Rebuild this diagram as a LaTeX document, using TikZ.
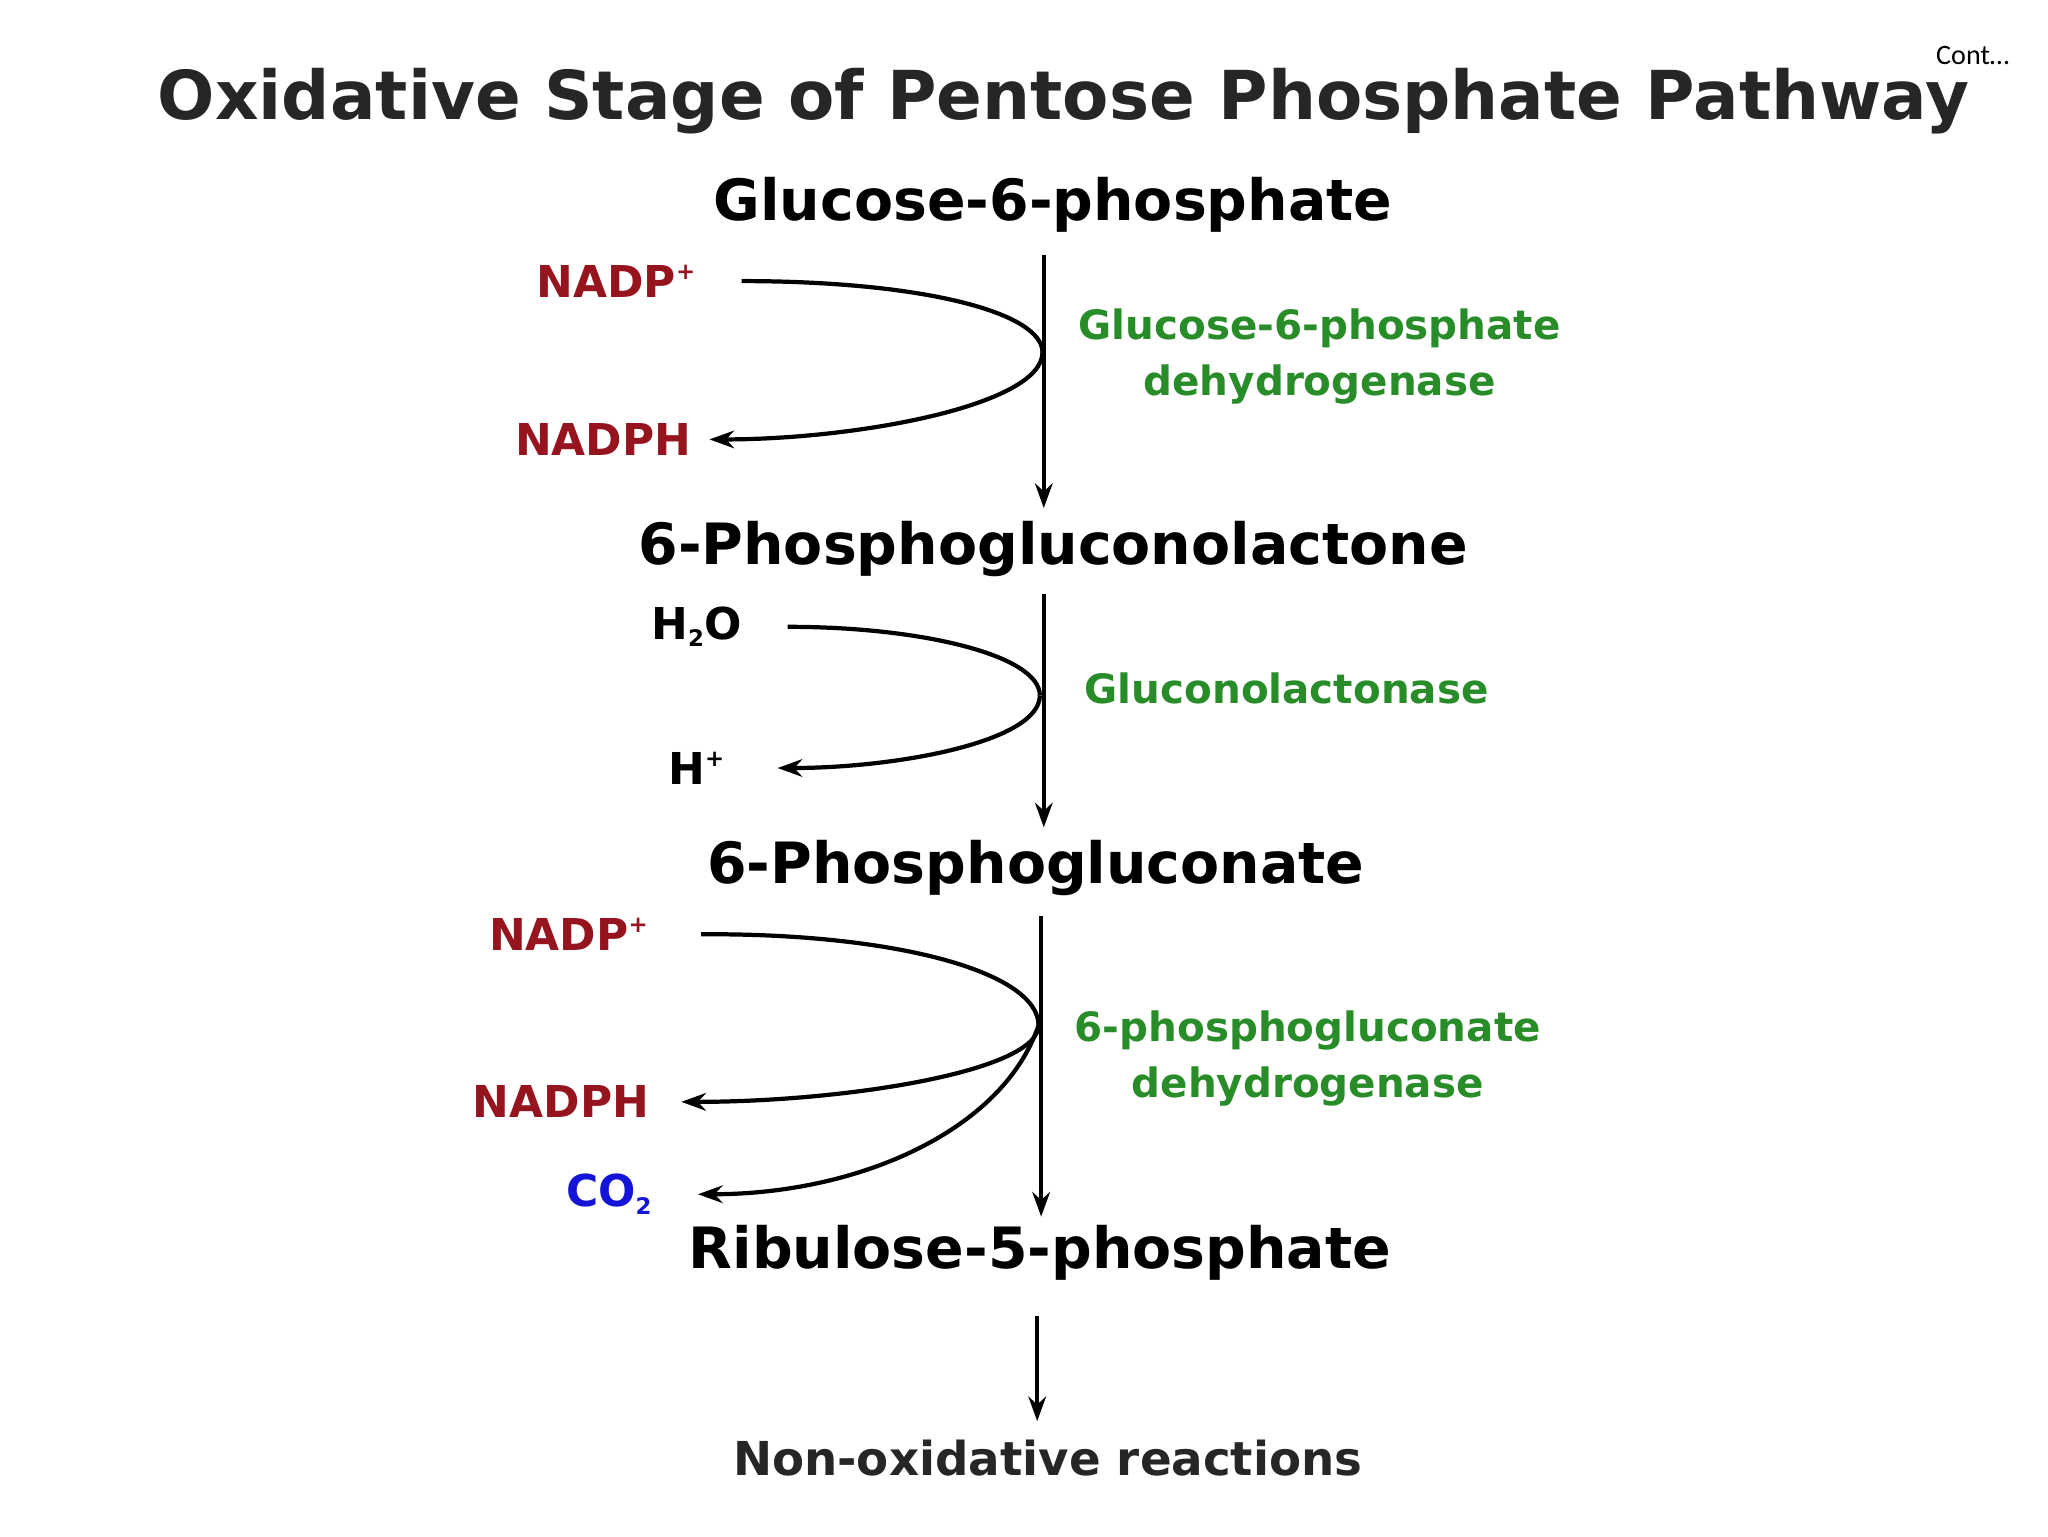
\documentclass[tikz,border=0pt]{standalone}
\usepackage{fontspec}
\setmainfont{DejaVu Sans}
\newfontfamily\contfont{Carlito}
\usetikzlibrary{arrows.meta}
\definecolor{dred}{RGB}{150,20,30}
\definecolor{egreen}{RGB}{40,140,40}
\definecolor{cblue}{RGB}{20,20,215}
\newcommand{\supp}[1]{\raisebox{0.75ex}{\fontsize{6.5}{7}\selectfont #1}}
\newcommand{\subb}[1]{\raisebox{-0.3ex}{\fontsize{6.5}{7}\selectfont #1}}
\tikzset{
 cmp/.style={font=\fontsize{16.2}{18}\selectfont\bfseries, inner sep=0pt},
 cof/.style={font=\fontsize{12.5}{15}\selectfont\bfseries, inner sep=1pt},
 enz/.style={font=\fontsize{11.5}{16}\selectfont\bfseries, text=egreen, align=center, inner sep=0pt},
 main/.style={line width=1.2pt, -{Stealth[length=7pt,width=5pt]}},
 side/.style={line width=1.2pt},
 sidea/.style={line width=1.2pt, -{Stealth[length=7pt,width=5pt]}}
}
\begin{document}
\begin{tikzpicture}[x=0.0132cm,y=-0.0132cm]
\useasboundingbox[fill=white] (0,0) rectangle (1552,1164);
\node[font=\fontsize{19.2}{22}\selectfont\bfseries, text=black!85, inner sep=0pt] (title) at (806,77) {Oxidative Stage of Pentose Phosphate Pathway};
\node[font=\contfont\fontsize{8}{9}\selectfont] (cont) at (1495,42) {Cont…};

\node[cmp] (g6p) at (798,155) {Glucose-6-phosphate};
\node[cmp] (pgl) at (798,416) {6-Phosphogluconolactone};
\node[cmp] (pg) at (785,658) {6-Phosphogluconate};
\node[cmp] (r5p) at (788,949) {Ribulose-5-phosphate};
\node[font=\fontsize{13.3}{16}\selectfont\bfseries, text=black!85, inner sep=0pt] (non) at (794,1105) {Non-oxidative reactions};

\coordinate (a1s) at (791,193); \coordinate (a1e) at (791,385);
\coordinate (a2s) at (791,450); \coordinate (a2e) at (791,627);
\coordinate (a3s) at (789,694); \coordinate (a3e) at (789,922);
\coordinate (a4s) at (786,997); \coordinate (a4e) at (786,1077);
\draw[main] (a1s) -- (a1e);
\draw[main] (a2s) -- (a2e);
\draw[main] (a3s) -- (a3e);
\draw[main] (a4s) -- (a4e);

% step 1
\node[cof, text=dred, anchor=east] (nadp1) at (530,213) {NADP\supp{+}};
\node[cof, text=dred, anchor=east] (nadph1) at (527,333) {NADPH};
\coordinate (t1) at (790,267);
\draw[side] ([xshift=12]nadp1.east) .. controls (700,213) and (790,237) .. (t1);
\draw[sidea] (t1) .. controls (790,307) and (650,333) .. ([xshift=4]nadph1.east);
\node[enz] (e1) at (1000,270) {Glucose-6-phosphate\\dehydrogenase};

% step 2
\node[cof, anchor=east] (h2o) at (565,475) {H\subb{2}O};
\node[cof, anchor=east] (hp) at (552,582) {H\supp{+}};
\coordinate (t2) at (788,527);
\draw[side] ([xshift=12]h2o.east) .. controls (700,475) and (788,497) .. (t2);
\draw[sidea] (t2) .. controls (788,562) and (680,582) .. ([xshift=14]hp.east);
\node[enz] (e2) at (975,522) {Gluconolactonase};

% step 3
\node[cof, text=dred, anchor=east] (nadp2) at (494,708) {NADP\supp{+}};
\node[cof, text=dred, anchor=east] (nadph2) at (495,835) {NADPH};
\node[cof, text=cblue, anchor=east] (co2) at (497,905) {CO\subb{2}};
\coordinate (t3) at (787,777);
\draw[side] ([xshift=14]nadp2.east) .. controls (680,707) and (787,737) .. (t3);
\draw[sidea] (t3) .. controls (787,812) and (640,835) .. ([xshift=8]nadph2.east);
\draw[sidea] (t3) .. controls (760,857) and (650,905) .. ([xshift=12]co2.east);
\node[enz] (e3) at (991,802) {6-phosphogluconate\\dehydrogenase};
\end{tikzpicture}
\end{document}
